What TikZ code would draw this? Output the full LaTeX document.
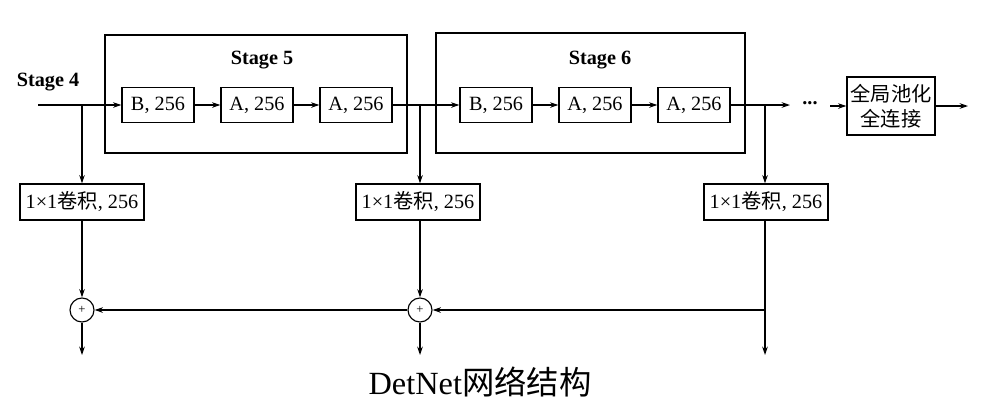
\documentclass[tikz,border=0pt]{standalone}
\usepackage{fontspec}
\setmainfont{Liberation Serif}
\newfontfamily\cjk{Noto Sans CJK SC}
\usetikzlibrary{arrows.meta}
\begin{document}
\begin{tikzpicture}[x=0.025cm,y=-0.025cm,
  bx/.style={draw,thick,minimum width=1.8cm,minimum height=0.875cm,inner sep=1pt,font=\Large},
  cv/.style={draw,thick,minimum width=3.1cm,minimum height=0.9cm,inner sep=1pt,font=\Large},
  ar/.style={-{Stealth[length=6pt,width=4pt]},thick},
  pl/.style={draw,thick,circle,minimum size=0.6cm,inner sep=0pt,font=\small},
  lb/.style={font=\Large\bfseries}]
\useasboundingbox (0,0) rectangle (987,416);
\draw[thick] (105,35) rectangle (407,153);
\draw[thick] (436,33) rectangle (745,153);
\node[lb] (s5) at (262,60) {Stage 5};
\node[lb] (s6) at (600,60) {Stage 6};
\node[lb] (s4) at (48,82) {Stage 4};
\coordinate (in) at (38,105);
\node[bx] (b1) at (158,105) {B, 256};
\node[bx] (a1) at (257,105) {A, 256};
\node[bx] (a2) at (356,105) {A, 256};
\node[bx] (b2) at (496,105) {B, 256};
\node[bx] (a3) at (595,105) {A, 256};
\node[bx] (a4) at (694,105) {A, 256};
\node[font=\Large\bfseries] (dots) at (810,103) {...};
\node[draw,thick,align=center,minimum width=2.2cm,minimum height=1.45cm,inner sep=1pt,font=\cjk\Large] (fc) at (891,106) {全局池化\\全连接};
\coordinate (out) at (968,106);
\coordinate (j1) at (82,105);
\coordinate (j2) at (420,105);
\coordinate (j3) at (765,105);
\node[cv] (c1) at (82,202) {1×1{\cjk 卷积}, 256};
\node[cv] (c2) at (418,202) {1×1{\cjk 卷积}, 256};
\node[cv] (c3) at (766,202) {1×1{\cjk 卷积}, 256};
\node[pl] (p1) at (82,310) {+};
\node[pl] (p2) at (420,310) {+};
\coordinate (k3) at (765,310);
\coordinate (o1) at (82,355);
\coordinate (o2) at (420,355);
\coordinate (o3) at (765,355);
\draw[ar] (in) -- (b1);
\draw[ar] (b1) -- (a1);
\draw[ar] (a1) -- (a2);
\draw[ar] (a2) -- (b2);
\draw[ar] (b2) -- (a3);
\draw[ar] (a3) -- (a4);
\draw[ar] (a4) -- (790,105);
\draw[ar] (830,106) -- (fc);
\draw[ar] (fc) -- (out);
\draw[ar] (j1) -- (c1);
\draw[ar] (j2) -- (j2|-c2.north);
\draw[ar] (j3) -- (j3|-c3.north);
\draw[ar] (c1) -- (p1);
\draw[ar] (j2|-c2.south) -- (p2);
\draw[ar] (j3|-c3.south) -- (o3);
\draw[ar] (k3) -- (p2);
\draw[ar] (p2) -- (p1);
\draw[ar] (p1) -- (o1);
\draw[ar] (p2) -- (o2);
\node[font=\fontsize{23}{26}\selectfont] (cap) at (480,382) {DetNet{\cjk 网络结构}};
\end{tikzpicture}
\end{document}
